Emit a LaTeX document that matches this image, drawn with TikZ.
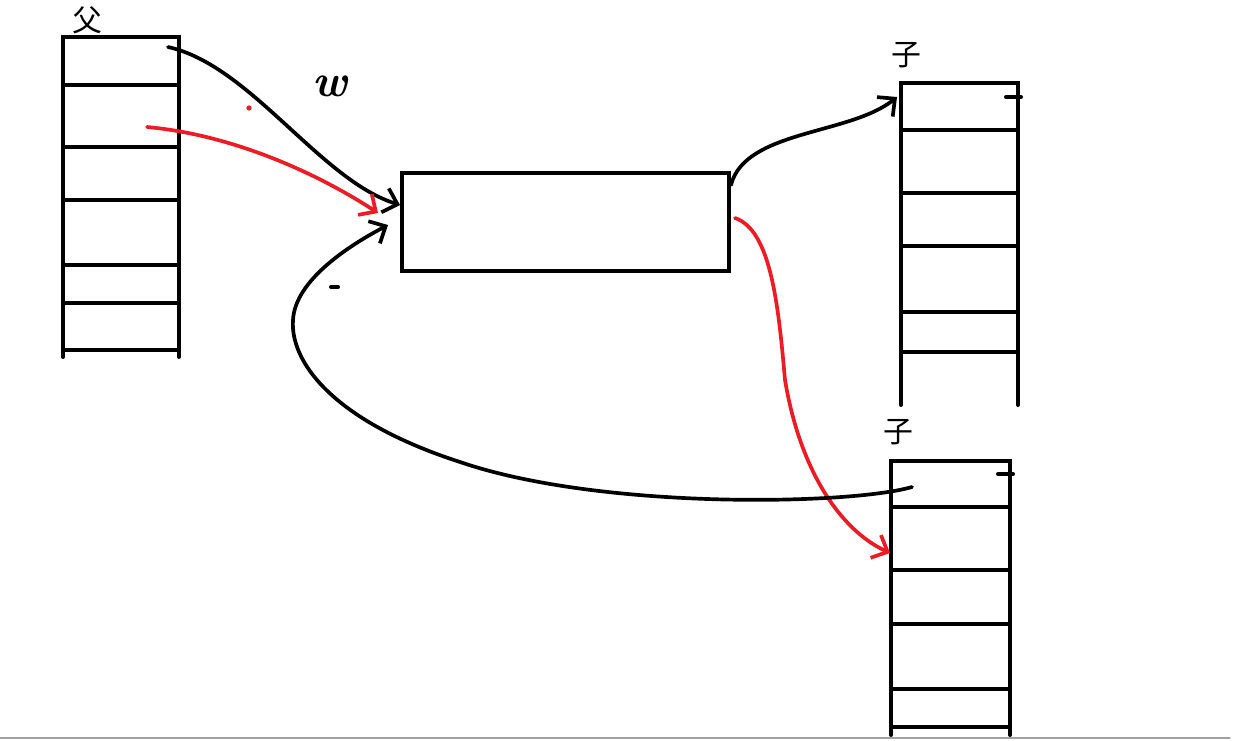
\documentclass[tikz,border=0pt]{standalone}
\usepackage{fontspec}
\newfontfamily\cjk{Noto Sans CJK SC}
\usetikzlibrary{arrows.meta, positioning}
\definecolor{penRed}{HTML}{ED1C24}
\definecolor{rimGrey}{HTML}{A0A0A0}

\begin{document}
\begin{tikzpicture}[x=0.02cm, y=-0.02cm, line width=2.3pt, line cap=round,
        lbl/.style={font=\cjk\fontsize{17}{19}\selectfont, inner sep=0pt},
        stackbox/.style={minimum width=#1, inner sep=0pt, outer sep=0pt, anchor=north west},
        frame/.style={draw, minimum width=6.54cm, minimum height=1.96cm, inner sep=0pt},
        link/.style={-{Straight Barb[length=2.6mm, width=5mm]}, line width=2.1pt},
        hot/.style={link, penRed}]
    \useasboundingbox (0,0) rectangle (1256,740);
    % stacks
    \node[stackbox=2.32cm, minimum height=6.4cm]  (fu)  at (63,37)  {};
    \node[stackbox=2.34cm, minimum height=6.44cm] (zi1) at (901,83) {};
    \node[stackbox=2.38cm, minimum height=5.48cm] (zi2) at (891,461) {};
    \foreach \s in {fu,zi1,zi2}
        \draw (\s.south west) -- (\s.north west) -- (\s.north east) -- (\s.south east);
    \foreach \y in {48,110,163,228,266,313} \draw (fu.north west) ++(0,\y) -- ++(116,0);
    \foreach \y in {47,110,163,229,269} \draw (zi1.north west) ++(0,\y) -- ++(117,0);
    \foreach \y in {46,109,163,228,266} \draw (zi2.north west) ++(0,\y) -- ++(119,0);
    \node[lbl] (fuL)  at (87,20)  {父};
    \node[lbl] (zi1L) at (906,55) {子};
    \node[lbl] (zi2L) at (898,432) {子};
    % middle block
    \node[frame] (mid) at (565.5,222) {};
    \node[font=\fontsize{26}{28}\selectfont\bfseries\itshape, inner sep=0pt] (wL) at (330,86) {w};
    % connectors
    \coordinate (fuOut) at (168,47);
    \coordinate (fuRed) at (147,127);
    \coordinate (ziOut) at (912,487);
    \draw[link] (fuOut) .. controls (250,65) and (320,180) .. ([yshift=0.34cm]mid.west);
    \draw[hot]  (fuRed) .. controls (235,135) and (320,175) .. ([xshift=-0.44cm,yshift=0.18cm]mid.west);
    \draw[link] ([yshift=0.74cm]mid.east) .. controls (745,130) and (850,135) .. ([xshift=-0.08cm,yshift=-0.28cm]zi1.north west);
    \draw[hot]  ([xshift=0.08cm,yshift=0.08cm]mid.east) .. controls (770,230) and (778,300) .. (785,380)
        .. controls (800,470) and (840,530) .. ([xshift=-0.02cm,yshift=-1.84cm]zi2.north west);
    \draw[link] (ziOut) .. controls (850,505) and (600,510) .. (460,462)
        .. controls (330,420) and (290,360) .. (293,320)
        .. controls (295,280) and (350,245) .. ([xshift=-0.24cm,yshift=-0.06cm]mid.west);
    % stray pen marks
    \fill[penRed] (249,108) circle (1.5pt);
    \draw (331,287) -- (338,287);
    \draw (1006,97) -- (1021,97);
    \draw (998,474) -- (1013,474);
    \draw[rimGrey, line width=0.8pt] (0,738) -- (1230,738);
\end{tikzpicture}
\end{document}
